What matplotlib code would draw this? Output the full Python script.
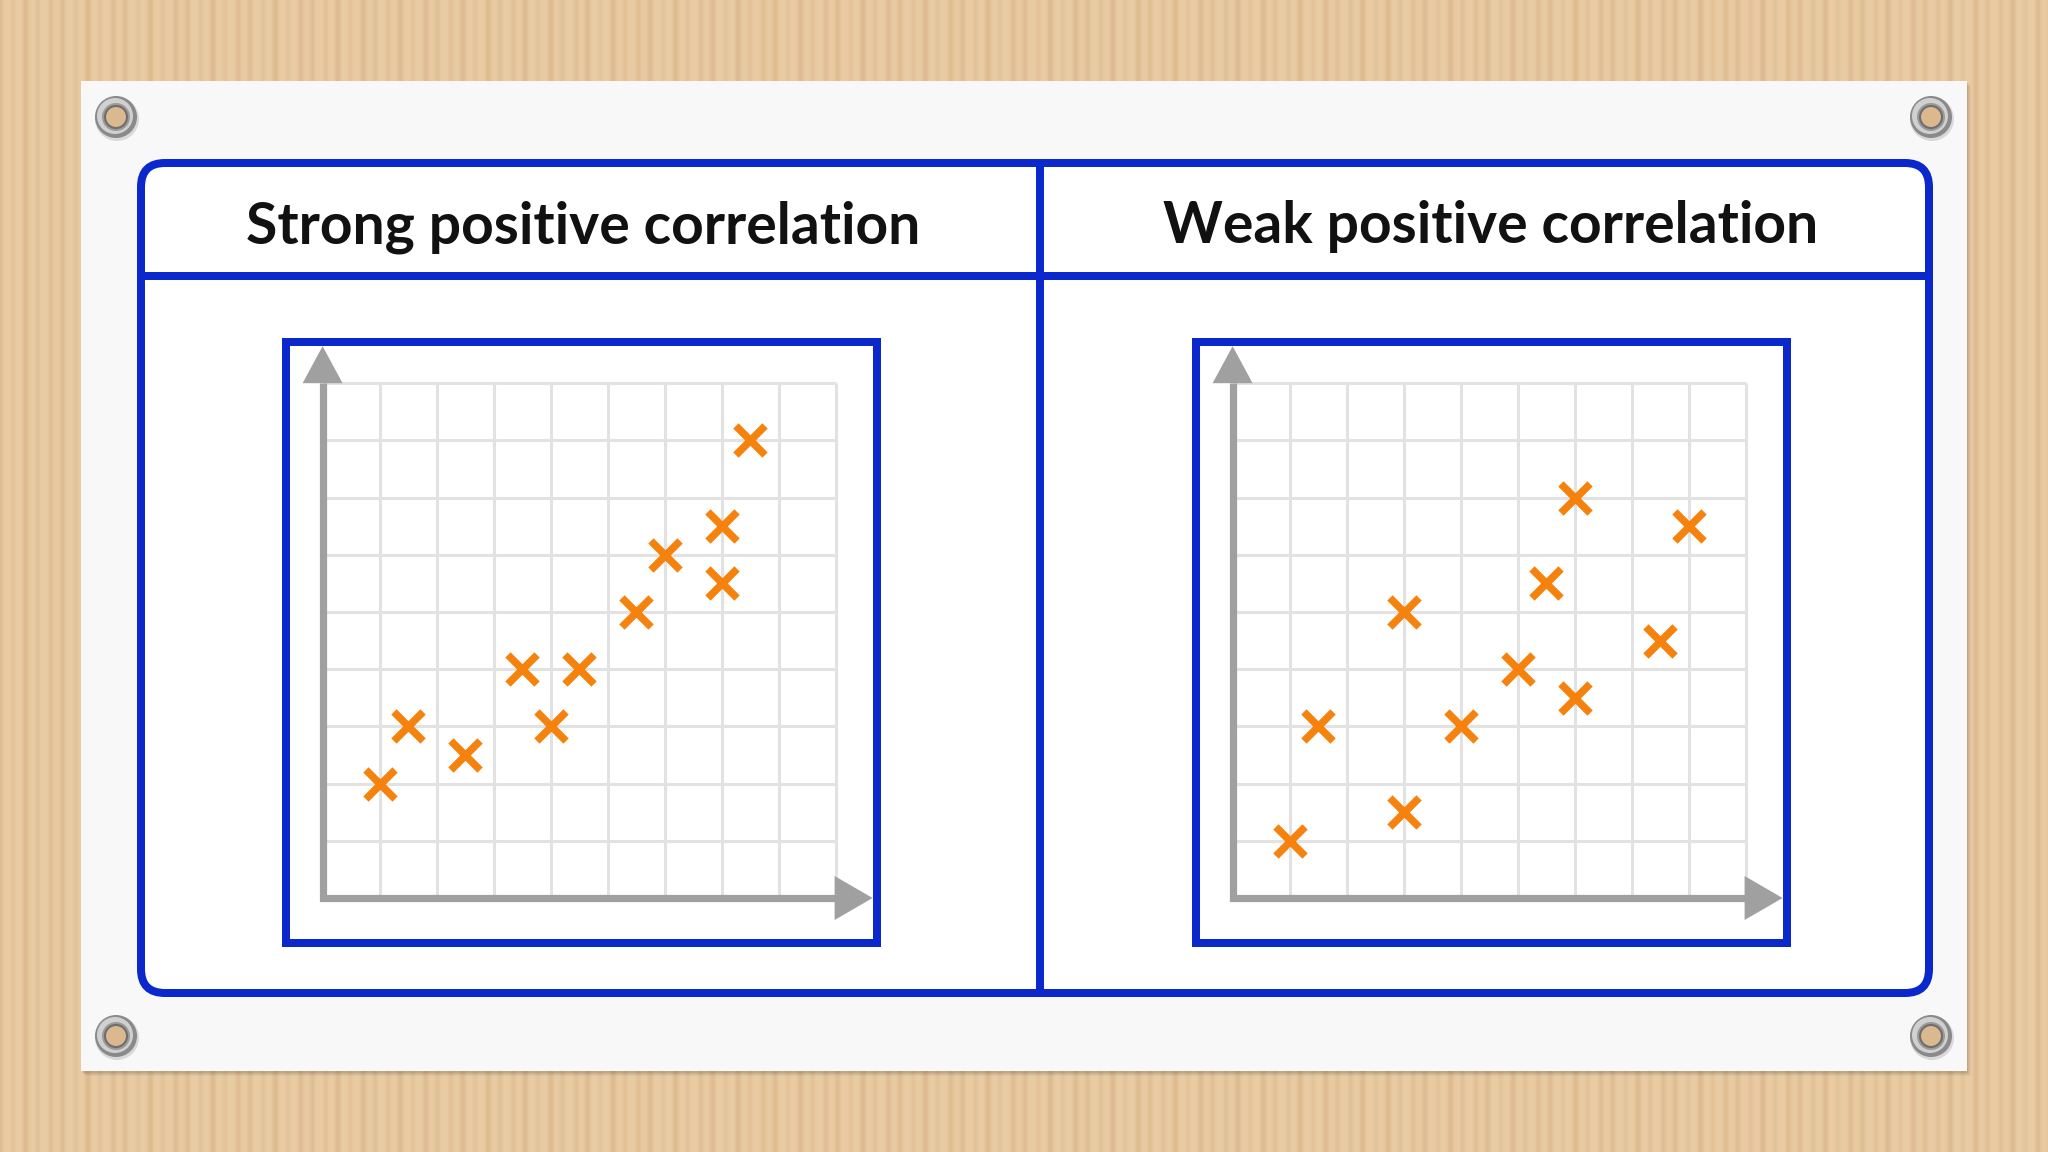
import numpy as np
import matplotlib
matplotlib.use("Agg")
import matplotlib.pyplot as plt
from matplotlib.patches import Rectangle, FancyBboxPatch, Polygon, Circle
from matplotlib.markers import MarkerStyle

# ---------------- data ----------------
titles = ["Strong positive correlation", "Weak positive correlation"]
strong_x = [1, 1.5, 2.5, 3.5, 4, 4.5, 5.5, 6, 7, 7, 7.5]
strong_y = [2, 3, 2.5, 4, 3, 4, 5, 6, 5.5, 6.5, 8]
weak_x = [1, 1.5, 3, 3, 4, 5, 5.5, 6, 6, 7.5, 8]
weak_y = [1, 3, 1.5, 5, 3, 4, 5.5, 3.5, 7, 4.5, 6.5]
grid_ticks = [1, 2, 3, 4, 5, 6, 7, 8, 9]

BLUE = "#0a28cc"
ORANGE = "#f5820c"
AXGRAY = "#a0a0a0"
GRIDGRAY = "#e2e2e2"

W, H = 2048, 1152
fig = plt.figure(figsize=(20.48, 11.52), dpi=100)
bg = fig.add_axes([0, 0, 1, 1])
bg.set_xlim(0, W)
bg.set_ylim(H, 0)
bg.axis("off")

# cardboard background with soft vertical stripes
t = np.arange(W)
v = 0.5 + 0.35 * np.cos(2 * np.pi * t / 12.5) + 0.15 * np.cos(2 * np.pi * t / 31.0 + 1.0)
v = np.clip(v, 0, 1)
light = np.array([234, 204, 164]) / 255
dark = np.array([221, 186, 143]) / 255
col = light[None, :] * (1 - v[:, None] ** 2) + dark[None, :] * (v[:, None] ** 2)
img = np.repeat(col[None, :, :], 4, axis=0)
bg.imshow(img, extent=[0, W, H, 0], aspect="auto", interpolation="bilinear", zorder=0)

# paper shadow + paper
for i, a in enumerate([0.06, 0.05, 0.04, 0.03]):
    bg.add_patch(Rectangle((81 + 1 + i, 81 + 2 + i), 1886, 990, fc="black", alpha=a, ec="none", zorder=1))
bg.add_patch(Rectangle((81, 81), 1886, 990, fc="#f8f8f8", ec="none", zorder=2))

# grommets
for cx, cy in [(116, 117), (1931, 117), (116, 1036), (1931, 1036)]:
    bg.add_patch(Circle((cx + 1, cy + 2), 22, fc="black", alpha=0.12, ec="none", zorder=3))
    bg.add_patch(Circle((cx, cy), 21, fc="#8a8a8a", ec="none", zorder=3))
    bg.add_patch(Circle((cx - 1, cy - 1), 18, fc="#d0d0d0", ec="none", zorder=3))
    bg.add_patch(Circle((cx, cy), 14, fc="#9a9a9a", ec="none", zorder=3))
    bg.add_patch(Circle((cx, cy), 11, fc="#dcb88e", ec="#6e6e6e", lw=1.5, zorder=3))

# main blue frame
lw_frame = 8 * 72 / 100
bg.add_patch(FancyBboxPatch((141, 163), 1788, 830, boxstyle="round,pad=0,rounding_size=24",
                            fc="white", ec=BLUE, lw=lw_frame, zorder=4))
bg.plot([141, 1929], [276, 276], color=BLUE, lw=lw_frame, solid_capstyle="butt", zorder=5)
bg.plot([1040, 1040], [163, 993], color=BLUE, lw=lw_frame, solid_capstyle="butt", zorder=5)

# titles
for tx, title in zip([583, 1491], titles):
    bg.text(tx, 243, title, ha="center", va="baseline", fontsize=41, fontweight="bold",
            family=["Lato", "DejaVu Sans"], color="#111111", zorder=6)

# scatter panels
x0_px, y0_px, unit_x, unit_y = 322.6, 898, 57.0, 57.2
marker = MarkerStyle("x", capstyle="round")
for dx, xs, ys in [(0, strong_x, strong_y), (910, weak_x, weak_y)]:
    left, right, top, bottom = 286 + dx, 877 + dx, 342, 943
    ax = fig.add_axes([left / W, 1 - bottom / H, (right - left) / W, (bottom - top) / H])
    ax.set_xlim((left - (x0_px + dx)) / unit_x, (right - (x0_px + dx)) / unit_x)
    ax.set_ylim((y0_px - bottom) / unit_y, (y0_px - top) / unit_y)
    ax.set_xticks([])
    ax.set_yticks([])
    for s in ax.spines.values():
        s.set_color(BLUE)
        s.set_linewidth(lw_frame)
    gmax = grid_ticks[-1]
    for g in grid_ticks:
        ax.plot([g, g], [0, gmax], color=GRIDGRAY, lw=2.2, zorder=1, solid_capstyle="butt")
        ax.plot([0, gmax], [g, g], color=GRIDGRAY, lw=2.2, zorder=1, solid_capstyle="butt")
    ax.plot([0, 0, gmax], [gmax, 0, 0], color=AXGRAY, lw=5.2, zorder=2,
            solid_joinstyle="miter", solid_capstyle="butt")
    hw_x = 20 / unit_x
    hw_y = 22 / unit_y
    ax.add_patch(Polygon([[-hw_x, gmax], [hw_x, gmax], [0, gmax + 37 / unit_y]],
                         closed=True, fc=AXGRAY, ec="none", zorder=2))
    ax.add_patch(Polygon([[gmax - 1 / unit_x, -hw_y], [gmax - 1 / unit_x, hw_y], [gmax + 37 / unit_x, 0]],
                         closed=True, fc=AXGRAY, ec="none", zorder=2))
    ax.scatter(xs, ys, marker=marker, s=440, color=ORANGE, linewidths=5.4, zorder=3)

fig.savefig("out.png", dpi=100)
